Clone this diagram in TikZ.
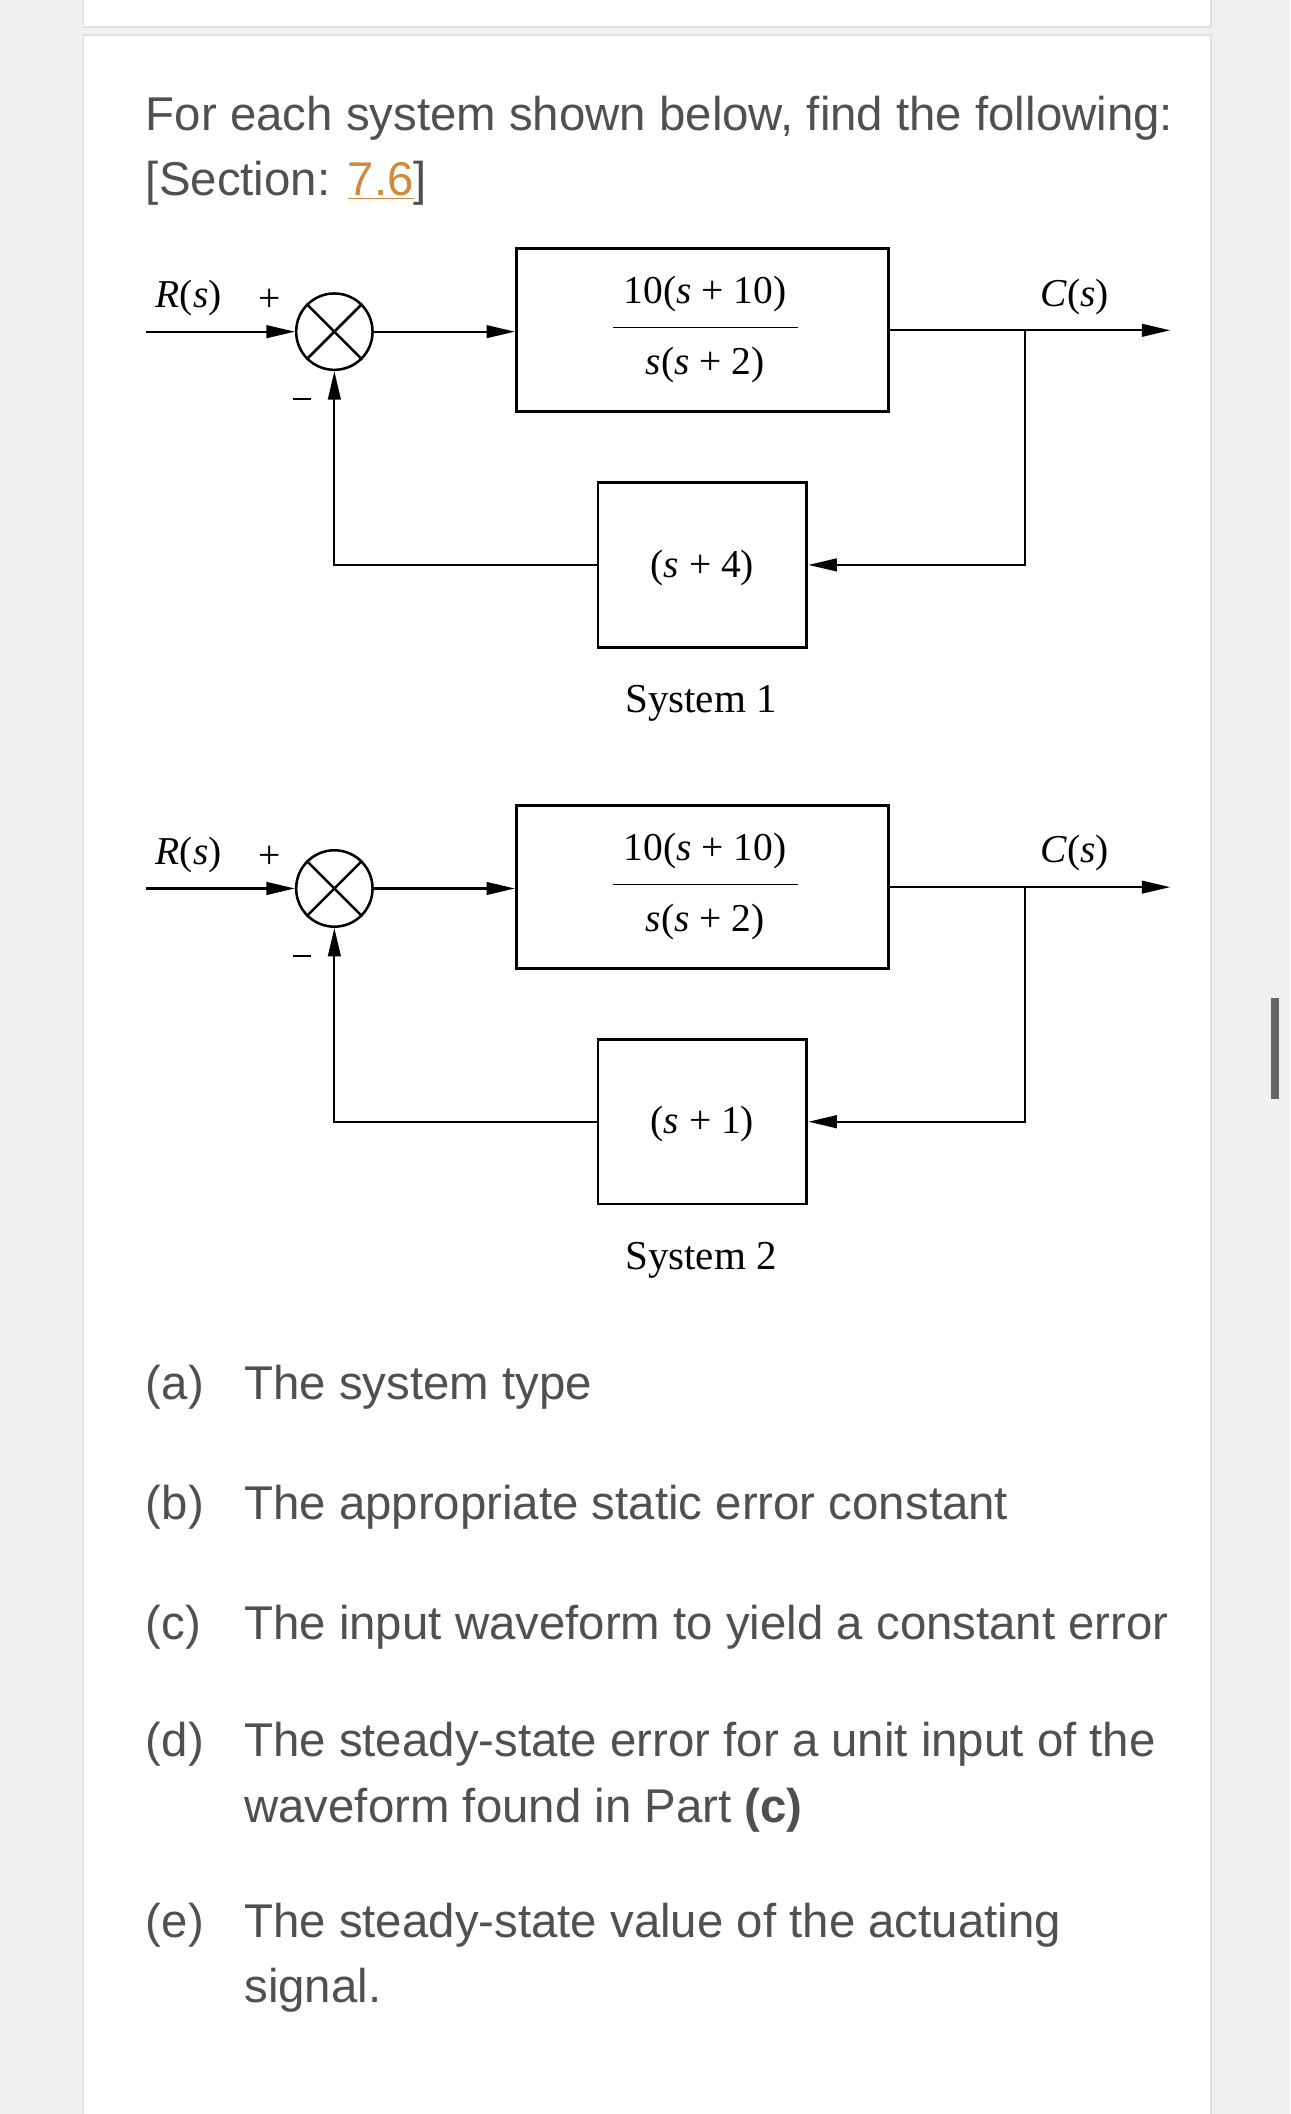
\documentclass[tikz,border=0pt]{standalone}
\usepackage{fontspec}
\setmainfont{Liberation Sans}
\newfontfamily\diagfont{Liberation Serif}
\usetikzlibrary{arrows.meta}
\definecolor{txt}{HTML}{505050}
\definecolor{lnk}{HTML}{D08A3A}
\newcommand{\vs}{\textit{s}}
\begin{document}
\begin{tikzpicture}[x=0.03cm,y=-0.03cm,
  sig/.style={line width=1.4pt,-{Triangle[length=18pt,width=8pt]}},
  blk/.style={draw,line width=1.8pt,inner sep=0pt},
  dl/.style={font=\diagfont\fontsize{25}{30}\selectfont,inner sep=0pt},
  q/.style={anchor=base west,text=txt,font=\fontsize{30}{35}\selectfont,inner sep=0pt}]
\fill[black!6] (0,0) rectangle (957,1568);
\useasboundingbox (0,0) rectangle (957,1568);
\fill[white] (62,0) rectangle (898,20);
\draw[black!12,line width=1pt] (62,0) -- (62,20) -- (898,20) -- (898,0);
\fill[white] (62,26) rectangle (898,1568);
\draw[black!12,line width=1pt] (62,1568) -- (62,26) -- (898,26) -- (898,1568);
\fill[black!60] (943,740) rectangle (949,815);
\node[q] (h1) at (108,97) {For each system shown below, find the following:};
\node[q] (h2) at (108,145) {[Section: \textcolor{lnk}{\underline{7.6}}]};
\foreach \i/\dy/\fb in {1/0/4, 2/413/1}{
 \begin{scope}[yshift=-\dy*0.03cm]
  \node[draw,circle,line width=1.6pt,minimum size=1.7cm,inner sep=0pt] (s\i) at (248,246) {};
  \draw[line width=1.6pt] (s\i.north west) -- (s\i.south east) (s\i.north east) -- (s\i.south west);
  \coordinate (in\i) at (108,246);
  \node[blk,minimum width=276*0.03cm,minimum height=121*0.03cm] (g\i) at (521,245) {};
  \node[dl] (gn\i) at (523,218) {10(\vs\ + 10)};
  \node[dl] (gd\i) at (523,271) {\vs(\vs\ + 2)};
  \draw[line width=1pt] (455,243) -- (592,243);
  \node[blk,minimum width=155*0.03cm,minimum height=122*0.03cm] (h\i) at (521,419) {};
  \node[dl] (ht\i) at (521,421) {(\vs\ + \fb)};
  \coordinate (o\i) at (868,245);
  \coordinate (br\i) at (760,245);
  \node[dl] (r\i) at (140,221) {\textit{R}(\vs)};
  \node[dl] (p\i) at (200,223) {+};
  \node[dl] (m\i) at (224,296) {\rule{11pt}{1.6pt}};
  \node[dl] (c\i) at (797,220) {\textit{C}(\vs)};
  \node[dl,font=\diagfont\fontsize{26}{30}\selectfont] (t\i) at (520,522) {System \i};
  \draw[sig] (in\i) -- (s\i);
  \draw[sig] (s\i) -- (g\i.west |- s\i);
  \draw[sig] (g\i) -- (o\i);
  \draw[sig] (br\i) |- (h\i.east);
  \draw[sig] (h\i.west) -| (s\i.south);
 \end{scope}}
\node[q] (a) at (108,1038) {(a)};
\node[q] (at) at (181,1038) {The system type};
\node[q] (b) at (108,1127) {(b)};
\node[q] (bt) at (181,1127) {The appropriate static error constant};
\node[q] (c) at (108,1216) {(c)};
\node[q] (ct) at (181,1216) {The input waveform to yield a constant error};
\node[q] (d) at (108,1303) {(d)};
\node[q] (dt) at (181,1303) {The steady-state error for a unit input of the};
\node[q] (dt2) at (181,1352) {waveform found in Part \textbf{(c)}};
\node[q] (e) at (108,1437) {(e)};
\node[q] (et) at (181,1437) {The steady-state value of the actuating};
\node[q] (et2) at (181,1485) {signal.};
\end{tikzpicture}
\end{document}
